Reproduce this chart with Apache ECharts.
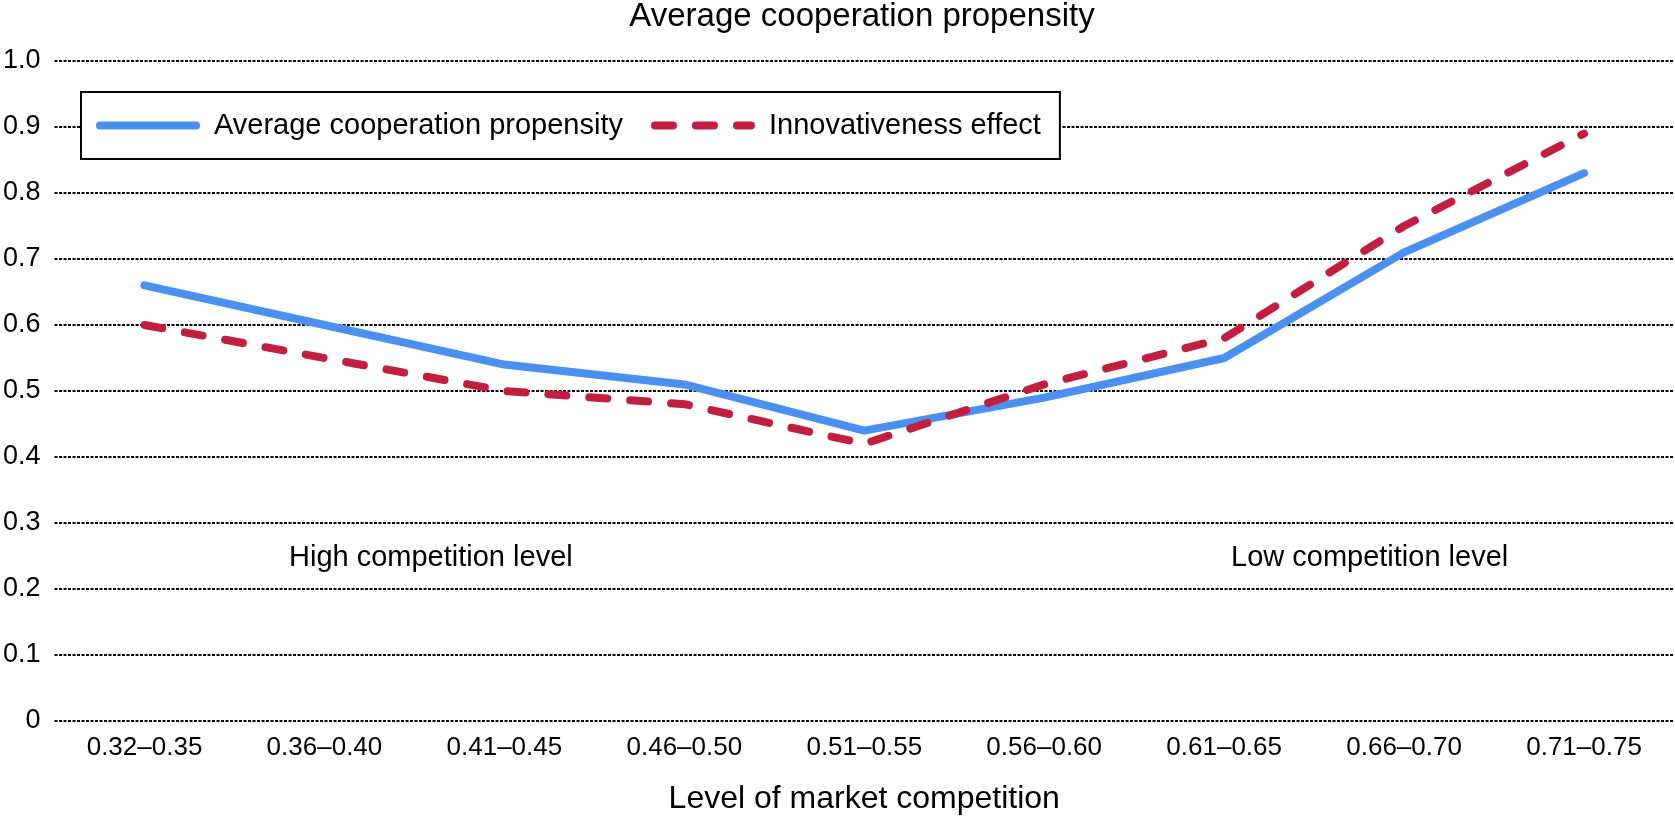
<!DOCTYPE html>
<html>
<head>
<meta charset="utf-8">
<title>Average cooperation propensity</title>
<script src="https://cdn.jsdelivr.net/npm/echarts@6/dist/echarts.min.js"></script>
<style>
    html, body { margin: 0; padding: 0; background: #fff; }
    #chart { width: 1675px; height: 820px; }
</style>
</head>
<body>
<div id="chart"></div>
<script>
// data
var categories = ['0.32\u20130.35', '0.36\u20130.40', '0.41\u20130.45', '0.46\u20130.50', '0.51\u20130.55',
    '0.56\u20130.60', '0.61\u20130.65', '0.66\u20130.70', '0.71\u20130.75'];
var cooperation = [0.66, 0.60, 0.54, 0.51, 0.44, 0.49, 0.55, 0.71, 0.83];
var innovativeness = [0.60, 0.55, 0.50, 0.48, 0.42, 0.51, 0.58, 0.75, 0.89];
var yTickLabels = ['0', '0.1', '0.2', '0.3', '0.4', '0.5', '0.6', '0.7', '0.8', '0.9', '1.0'];

var fontName = '"Liberation Sans", Arial, Helvetica, sans-serif';

var myChart = echarts.init(document.getElementById('chart'));
var option = {
    animation: false,
    legend: {
        left: 81,
        top: 92,
        orient: 'horizontal',
        padding: [19, 19, 19, 15],
        itemGap: 28,
        itemWidth: 96,
        itemHeight: 28,
        borderColor: '#000',
        borderWidth: 2,
        borderRadius: 0,
        backgroundColor: '#fff',
        itemStyle: { opacity: 0 },
        lineStyle: { width: 8, cap: 'round' },
        textStyle: { fontFamily: fontName, fontSize: 29, color: '#000', padding: [0, 0, 0, 13] },
        data: ['Average cooperation propensity', 'Innovativeness effect']
    },
    grid: {
        left: 53,
        right: 1,
        top: 61,
        bottom: 94
    },
    xAxis: {
        type: 'category',
        boundaryGap: true,
        data: categories,
        name: 'Level of market competition',
        nameLocation: 'middle',
        nameGap: 62,
        nameTextStyle: { fontFamily: fontName, fontSize: 32, color: '#000' },
        axisLine: { show: false },
        axisTick: { show: false },
        axisLabel: { fontFamily: fontName, fontSize: 26, color: '#000', margin: 14, interval: 0 }
    },
    yAxis: {
        type: 'value',
        min: 0,
        max: 1,
        interval: 0.1,
        axisLine: { show: false },
        axisTick: { show: false },
        axisLabel: {
            fontFamily: fontName, fontSize: 27, color: '#000', margin: 14,
            formatter: function (v) { return yTickLabels[Math.round(v * 10)]; }
        },
        splitLine: { lineStyle: { color: '#000', width: 1.8, type: [3, 1.5] } }
    },
    series: [
        {
            name: 'Average cooperation propensity',
            type: 'line',
            symbol: 'none',
            data: cooperation,
            z: 3,
            lineStyle: { color: '#4A90F0', width: 8, cap: 'round', join: 'round' },
            itemStyle: { color: '#4A90F0' }
        },
        {
            name: 'Innovativeness effect',
            type: 'line',
            symbol: 'none',
            data: innovativeness,
            z: 4,
            lineStyle: { color: '#C21E40', width: 8, type: [18, 23], cap: 'round', join: 'round' },
            itemStyle: { color: '#C21E40' }
        }
    ],
    graphic: [
        {
            type: 'text', x: 862, y: 17,
            style: { text: 'Average cooperation propensity', font: '33px ' + fontName, fill: '#000', align: 'center', verticalAlign: 'middle' }
        },
        {
            type: 'text', x: 289, y: 558,
            style: { text: 'High competition level', font: '29px ' + fontName, fill: '#000', align: 'left', verticalAlign: 'middle' }
        },
        {
            type: 'text', x: 1231, y: 558,
            style: { text: 'Low competition level', font: '29px ' + fontName, fill: '#000', align: 'left', verticalAlign: 'middle' }
        }
    ]
};
myChart.setOption(option);
</script>
</body>
</html>
